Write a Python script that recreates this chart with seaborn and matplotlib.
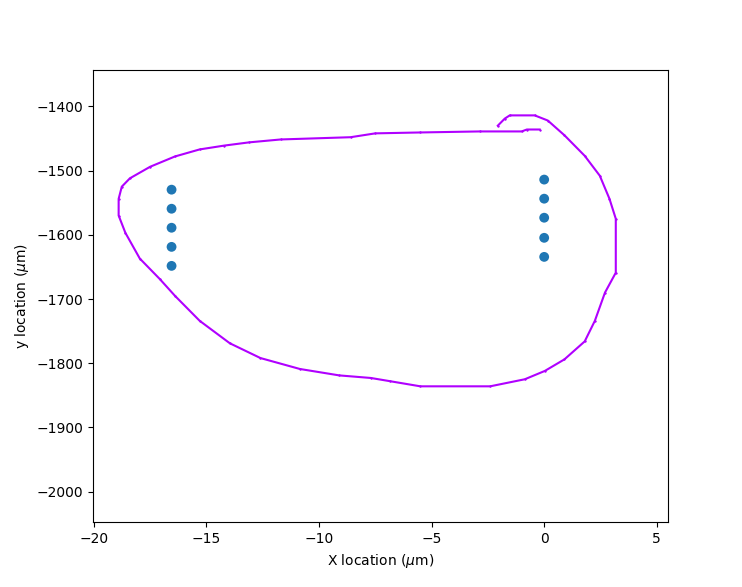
import numpy as np
import matplotlib
matplotlib.use('Agg')
import matplotlib.pyplot as plt
import seaborn as sns

# contour trace
trace_x = [-0.2, -0.77, -1.0, -2.86, -5.5, -7.5, -8.6, -11.7, -13.1, -14.2, -15.3, -16.4,
           -17.5, -18.4, -18.76, -18.9, -18.9, -18.6, -17.96, -17.07, -16.4, -15.3, -13.96,
           -12.6, -10.85, -9.1, -7.7, -6.85, -5.5, -2.4, -0.86, 0.03, 0.9, 1.8, 2.25, 2.7,
           3.18, 3.18, 2.9, 2.47, 1.8, 0.9, 0.16, -0.42, -1.53, -1.75, -2.06]
trace_y = [-1436, -1436, -1439, -1439, -1440.6, -1442, -1448, -1451.5, -1456, -1461, -1467, -1478,
           -1494, -1512, -1525, -1544, -1570, -1597, -1637, -1669, -1695, -1734, -1769,
           -1792, -1809, -1819, -1823, -1828, -1836, -1836, -1825, -1812, -1794, -1766, -1734, -1690,
           -1659, -1575, -1544, -1508, -1477, -1445, -1422, -1414, -1414, -1419, -1430]

# electrode positions
elec_x = [-16.55] * 5 + [0.0] * 5
elec_y = [-1529.7, -1559.4, -1589, -1618.8, -1648.4,
          -1514, -1543.75, -1573.4, -1604.7, -1634.4]

fig, ax = plt.subplots(figsize=(7.42, 5.87), dpi=100)
ax.plot(trace_x, trace_y, color='#b000ff', marker='+', markersize=2, linewidth=1.5)
sns.scatterplot(x=elec_x, y=elec_y, ax=ax, s=50, color='#1f77b4', edgecolor='none')
ax.set_xlim(-20.05, 5.49)
ax.set_ylim(-2048, -1344)
ax.set_xlabel(r'X location ($\mu$m)')
ax.set_ylabel(r'y location ($\mu$m)')
plt.savefig('out.png', dpi=100)
